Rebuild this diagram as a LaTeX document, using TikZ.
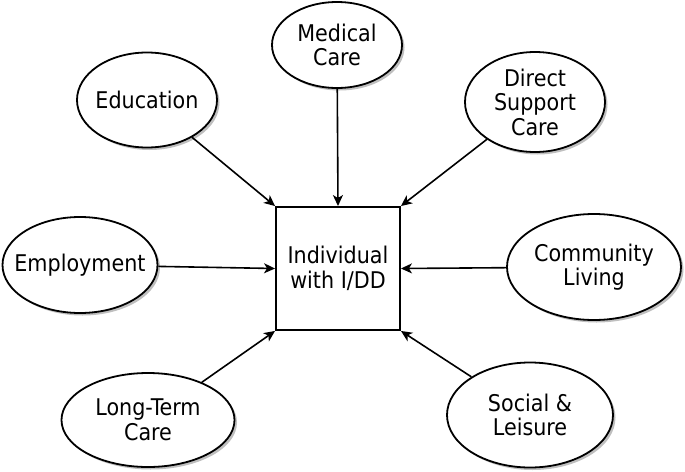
\documentclass[tikz,border=0pt]{standalone}
\usepackage{fontspec}
\setmainfont{DejaVu Sans Condensed}
\usetikzlibrary{shapes.geometric,arrows.meta,shadows}
\begin{document}
\begin{tikzpicture}[x=1pt,y=-1pt,
  every node/.style={font=\fontsize{23}{24.5}\selectfont, align=center, inner sep=0pt},
  topic/.style={ellipse, draw, line width=1.8pt, fill=white, inner sep=-14pt,
    drop shadow={shadow xshift=2.5pt, shadow yshift=-2.5pt, opacity=0.25, fill=black}},
  centre/.style={rectangle, draw, line width=1.9pt, fill=white},
  link/.style={line width=1.6pt, -{Stealth[length=11pt,width=10pt,inset=3pt]}}]
\useasboundingbox (0,0) rectangle (685,471);
\node[centre, minimum width=124pt, minimum height=123pt] (box) at (338,268.5) {Individual\\with I/DD};
\node[topic, minimum width=130pt, minimum height=86pt] (med) at (337,45) {Medical\\Care};
\node[topic, minimum width=140pt, minimum height=95pt] (edu) at (147,100) {Education};
\node[topic, minimum width=140pt, minimum height=100pt] (dsc) at (535,102) {Direct\\Support\\Care};
\node[topic, minimum width=155pt, minimum height=96pt] (emp) at (80,265) {Employment};
\node[topic, minimum width=174pt, minimum height=106pt] (com) at (594,267) {Community\\Living};
\node[topic, minimum width=173pt, minimum height=94pt] (ltc) at (148,420) {Long-Term\\Care};
\node[topic, minimum width=166pt, minimum height=105pt] (soc) at (530,415) {Social \&\\Leisure};
\draw[link] (edu) -- (box.north west);
\draw[link] (med) -- (box.north);
\draw[link] (dsc) -- (box.north east);
\draw[link] (emp) -- (box.west);
\draw[link] (com) -- (box.east);
\draw[link] (ltc) -- (box.south west);
\draw[link] (soc) -- (box.south east);
\end{tikzpicture}
\end{document}
